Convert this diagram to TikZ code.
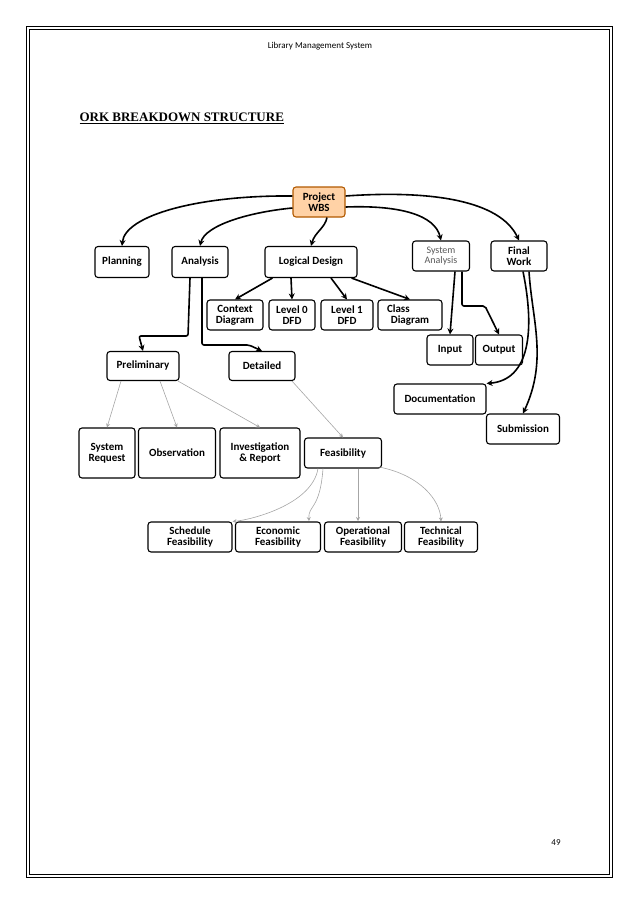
\documentclass[tikz,border=0pt]{standalone}
\usepackage{fontspec}
\setmainfont{Carlito}
\newfontfamily\tnr{Liberation Serif}
\usetikzlibrary{arrows.meta}
\begin{document}
\begin{tikzpicture}[x=1pt,y=-1pt,
  box/.style={draw=black,line width=1.1pt,rounded corners=3pt,fill=white,inner sep=1pt,align=center,font=\bfseries\fontsize{11}{11}\selectfont},
  bk/.style={line width=1.6pt,-{Stealth[length=6pt,width=6pt]}},
  gr/.style={draw=gray!70,line width=0.6pt,-{Stealth[length=4pt,width=4pt]}}]
\useasboundingbox (0,0) rectangle (638,902);
\draw[line width=0.8pt] (26,26) rectangle (612,877);
\draw[line width=0.4pt] (29,29) rectangle (609,874);
\node (hdr) at (320,46) {\fontsize{9}{9}\selectfont Library Management System};
\node[anchor=west] (ttl) at (76,118) {\tnr\bfseries\fontsize{13}{13}\selectfont\underline{ORK BREAKDOWN STRUCTURE}};
\node (pg) at (556,843) {\fontsize{9}{9}\selectfont 49};

\node[box,fill=orange!35,draw=orange!70!black,minimum width=52pt,minimum height=30pt] (wbs) at (319,202) {Project\\WBS};
\node[box,minimum width=54pt,minimum height=31pt] (plan) at (122,262) {Planning};
\node[box,minimum width=56pt,minimum height=31pt] (ana) at (200,262) {Analysis};
\node[box,minimum width=92pt,minimum height=31pt] (ld) at (311,262) {Logical Design};
\node[box,font=\fontsize{10}{10.5}\selectfont\color{gray!70!black},minimum width=57pt,minimum height=30pt] (sa) at (441,256) {System\\Analysis};
\node[box,minimum width=56pt,minimum height=30pt] (fw) at (519,256) {Final\\Work};
\node[box,minimum width=56pt,minimum height=30pt] (cd) at (235,315) {Context\\Diagram};
\node[box,minimum width=46pt,minimum height=30pt] (l0) at (292,315) {Level 0\\DFD};
\node[box,minimum width=52pt,minimum height=30pt] (l1) at (347,315) {Level 1\\DFD};
\node[box,minimum width=64pt,minimum height=30pt] (cl) at (410,315) {Class\phantom{gram}\\Diagram};
\node[box,minimum width=46pt,minimum height=30pt] (in) at (450,350) {Input};
\node[box,minimum width=47pt,minimum height=30pt] (out) at (499,350) {Output};
\node[box,minimum width=72pt,minimum height=29pt] (pre) at (143,366) {Preliminary};
\node[box,minimum width=66pt,minimum height=29pt] (det) at (262,366) {Detailed};
\node[box,minimum width=92pt,minimum height=30pt] (doc) at (440,399) {Documentation};
\node[box,minimum width=73pt,minimum height=30pt] (sub) at (523,429) {Submission};
\node[box,minimum width=56pt,minimum height=50pt] (sr) at (107,453) {System\\Request};
\node[box,minimum width=77pt,minimum height=50pt] (obs) at (177,453) {Observation};
\node[box,minimum width=80pt,minimum height=50pt] (inv) at (260,453) {Investigation\\\& Report};
\node[box,minimum width=77pt,minimum height=30pt] (fea) at (343,453) {Feasibility};
\node[box,minimum width=84pt,minimum height=30pt] (sf) at (190,537) {Schedule\\Feasibility};
\node[box,minimum width=85pt,minimum height=30pt] (ef) at (278,537) {Economic\\Feasibility};
\node[box,minimum width=77pt,minimum height=30pt] (of) at (363,537) {Operational\\Feasibility};
\node[box,minimum width=73pt,minimum height=30pt] (tf) at (441,537) {Technical\\Feasibility};

% thick black
\draw[bk] (wbs.west) ++(0,-6) .. controls (200,195) and (125,215) .. (plan.north);
\draw[bk] (wbs.west) ++(0,6) .. controls (250,212) and (205,225) .. (ana.north);
\draw[bk] (wbs.south) ++(8,0) .. controls (325,228) and (315,232) .. (ld.north);
\draw[bk] (wbs.east) ++(0,-6) .. controls (430,190) and (500,200) .. (fw.north);
\draw[bk] (wbs.east) ++(0,5) .. controls (400,205) and (435,215) .. (sa.north);
\draw[bk] (ld.south west) ++(8,0) -- (cd.north);
\draw[bk] (ld.south) ++(-20,0) -- (l0.north);
\draw[bk] (ld.south) ++(20,0) -- (l1.north);
\draw[bk] (ld.south east) ++(-6,0) -- (cl.north);
\draw[bk,rounded corners=2pt] (ana.south) ++(-10,0) -- (188,336) -- (139,336) -- (pre.north);
\draw[bk,rounded corners=2pt] (ana.south) ++(2,0) -- (202,345) -- (249,345) -- (det.north);
\draw[bk] (sa.south) ++(14,0) -- (in.north);
\draw[bk,rounded corners=2pt] (sa.south) ++(21,0) -- (462,306) -- (485,306) -- (out.north);
\draw[bk] (fw.south) ++(4,0) .. controls (535,330) and (530,380) .. (doc.north east);
\draw[bk] (fw.south) ++(10,0) .. controls (532,320) and (548,360) .. (sub.north);
% gray
\draw[gr] (pre.south) ++(-22,0) -- (sr.north);
\draw[gr] (pre.south) ++(17,0) -- (obs.north);
\draw[gr] (pre.south) ++(35,0) -- (inv.north);
\draw[gr] (det.south) ++(30,0) -- (fea.north);
\draw[gr] (fea.south) ++(-25,0) .. controls (312,505) and (250,520) .. (sf.north east);
\draw[gr] (fea.south) ++(-20,0) .. controls (320,510) and (308,505) .. (309,521);
\draw[gr] (fea.south) ++(15,0) -- (358,521);
\draw[gr] (fea.east) ++(-3,14) .. controls (420,475) and (440,500) .. (tf.north);
\end{tikzpicture}
\end{document}
